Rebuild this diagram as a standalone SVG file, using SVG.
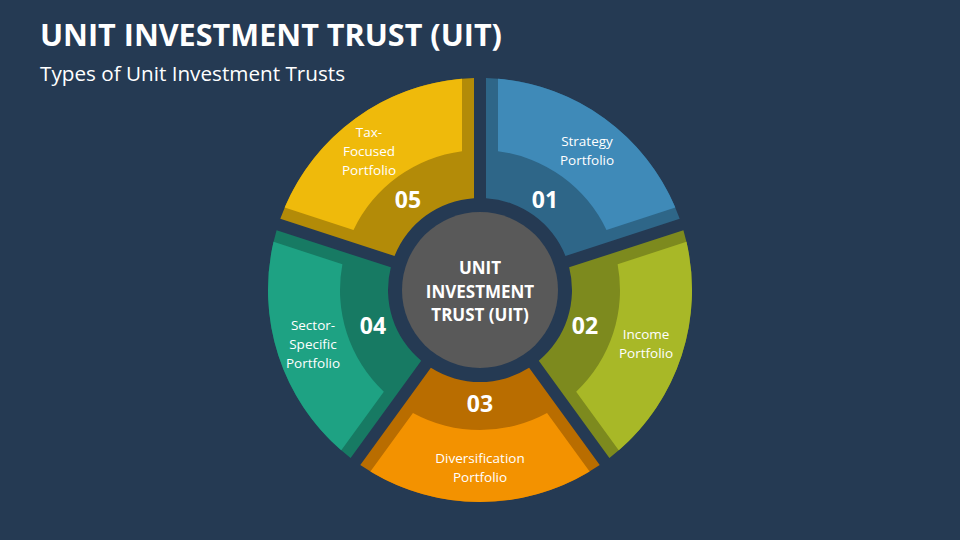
<svg xmlns="http://www.w3.org/2000/svg" width="960" height="540" viewBox="0 0 960 540">
<style>
text{font-family:"Open Sans","Liberation Sans",sans-serif;fill:#fff}
.lbl{font-size:13.5px;text-anchor:middle}
.num{font-size:23px;font-weight:bold;text-anchor:middle}
.ctr{font-size:17px;font-weight:bold;text-anchor:middle}
</style>
<rect width="960" height="540" fill="#253a53"/>
<text x="40" y="46" font-size="31" font-weight="bold" textLength="462" lengthAdjust="spacingAndGlyphs">UNIT INVESTMENT TRUST (UIT)</text>
<text x="40" y="81" font-size="20" textLength="305" lengthAdjust="spacingAndGlyphs">Types of Unit Investment Trusts</text>
<g id="seg01">
<path fill="#2e6688" d="M486,78.08 A212 212 0 0 1 679.71,218.81 L565.46,255.92 A92 92 0 0 0 486,198.2 Z"/>
<path fill="#3f8ab8" d="M498,78.77 A212 212 0 0 1 675.34,207.61 L606.49,229.98 A140 140 0 0 0 498,151.16 Z"/>
<text class="num" x="545" y="208">01</text>
<text class="lbl" x="587" y="146">Strategy</text><text class="lbl" x="587" y="165">Portfolio</text>
</g>
<g id="seg02">
<path fill="#7d8a1e" d="M683.41,230.23 A212 212 0 0 1 609.42,457.91 L538.81,360.74 A92 92 0 0 0 569.16,267.34 Z"/>
<path fill="#a8b827" d="M686.46,241.85 A212 212 0 0 1 618.72,450.31 L576.17,391.74 A140 140 0 0 0 617.61,264.22 Z"/>
<text class="num" x="585" y="334">02</text>
<text class="lbl" x="646" y="339">Income</text><text class="lbl" x="646" y="358">Portfolio</text>
</g>
<g id="seg03">
<path fill="#b96d00" d="M599.72,464.97 A212 212 0 0 1 360.28,464.97 L430.89,367.80 A92 92 0 0 0 529.11,367.80 Z"/>
<path fill="#f39200" d="M589.60,471.47 A212 212 0 0 1 370.40,471.47 L412.95,412.90 A140 140 0 0 0 547.05,412.90 Z"/>
<text class="num" x="480" y="412">03</text>
<text class="lbl" x="480" y="463">Diversification</text><text class="lbl" x="480" y="482">Portfolio</text>
</g>
<g id="seg04">
<path fill="#177a63" d="M350.58,457.91 A212 212 0 0 1 276.59,230.23 L390.84,267.34 A92 92 0 0 0 421.19,360.74 Z"/>
<path fill="#1ea283" d="M341.28,450.31 A212 212 0 0 1 273.54,241.85 L342.39,264.22 A140 140 0 0 0 383.83,391.74 Z"/>
<text class="num" x="373" y="334">04</text>
<text class="lbl" x="313" y="330">Sector-</text><text class="lbl" x="313" y="349">Specific</text><text class="lbl" x="313" y="368">Portfolio</text>
</g>
<g id="seg05">
<path fill="#b38b08" d="M280.29,218.81 A212 212 0 0 1 474,78.08 L474,198.2 A92 92 0 0 0 394.54,255.92 Z"/>
<path fill="#efba0b" d="M284.66,207.61 A212 212 0 0 1 462,78.77 L462,151.16 A140 140 0 0 0 353.51,229.98 Z"/>
<text class="num" x="408" y="208">05</text>
<text class="lbl" x="369" y="137">Tax-</text><text class="lbl" x="369" y="156">Focused</text><text class="lbl" x="369" y="175">Portfolio</text>
</g>
<g id="center">
<circle cx="480" cy="290" r="78" fill="#595959"/>
<text class="ctr" x="480" y="274">UNIT</text>
<text class="ctr" x="480" y="298">INVESTMENT</text>
<text class="ctr" x="480" y="321">TRUST (UIT)</text>
</g>
<g id="connectors"/>
</svg>
